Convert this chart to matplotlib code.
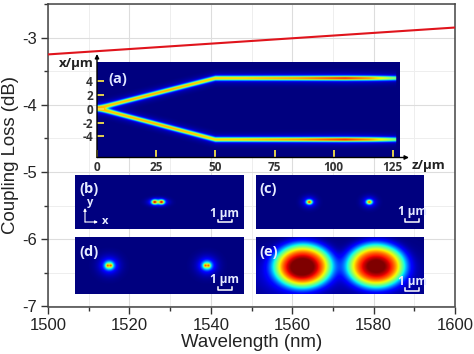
import numpy as np
import matplotlib
matplotlib.use("Agg")
import matplotlib.pyplot as plt
from matplotlib.patches import FancyArrowPatch
from matplotlib.ticker import MultipleLocator

plt.rcParams["font.family"] = ["Liberation Sans", "DejaVu Sans"]
plt.rcParams["axes.unicode_minus"] = False

FIG_W, FIG_H = 474, 354

wavelength = [1500, 1600]
coupling_loss = [-3.25, -2.85]

# panel (a) waveguide paths, um
guide_z = [0, 50, 125]
guide_upper = [0, 4.35, 4.35]
guide_lower = [0, -4.5, -4.5]
power_z = [0, 4, 30, 50, 60, 85, 105, 115, 122, 126]
power_level = [0.72, 0.70, 0.72, 0.68, 0.68, 0.74, 0.85, 0.75, 0.60, 0.50]
z_ticks = [0, 25, 50, 75, 100, 125]
x_ticks = [-4, -2, 0, 2, 4]

# mode spots: x, y, sigma x, sigma y, peak, exponent (um)
spots_b = [(-0.35, 0, 0.20, 0.15, 0.72, 1), (0.15, 0, 0.20, 0.15, 0.72, 1),
           (-0.10, 0, 0.62, 0.26, 0.28, 1)]
spots_c = [(-2.2, 0, 0.20, 0.15, 0.72, 1), (2.1, 0, 0.20, 0.15, 0.66, 1),
           (-2.2, 0, 0.50, 0.40, 0.16, 1), (2.1, 0, 0.50, 0.40, 0.16, 1)]
spots_d = [(-3.73, 0, 0.11, 0.12, 0.32, 1), (-3.47, 0, 0.11, 0.12, 0.32, 1),
           (3.27, 0, 0.11, 0.12, 0.32, 1), (3.53, 0, 0.11, 0.12, 0.32, 1),
           (-3.6, 0, 0.34, 0.30, 0.42, 1), (3.4, 0, 0.34, 0.30, 0.42, 1),
           (-3.6, 0, 0.75, 0.68, 0.16, 1), (3.4, 0, 0.75, 0.68, 0.16, 1)]
spots_e = [(-2.64, 0, 2.05, 1.55, 0.86, 1.9), (2.57, 0, 2.05, 1.55, 0.86, 1.9),
           (-2.64, 0, 0.70, 0.50, 0.14, 1), (2.57, 0, 0.70, 0.50, 0.14, 1),
           (-3.2, -0.6, 2.6, 1.6, 0.16, 1), (3.0, -0.6, 2.6, 1.6, 0.10, 1)]

# name, box, name position, spots, scale label position, bracket top
panels = [
    ("(b)", (75, 175, 244, 229), (89, 189), spots_b, (225, 214), 220),
    ("(c)", (256, 175, 424, 229), (268, 189), spots_c, (412, 211), 219),
    ("(d)", (75, 237, 244, 294), (89, 252), spots_d, (225, 279), 287),
    ("(e)", (256, 237, 424, 294), (269, 252), spots_e, (412, 281), 288),
]


def px_axes(fig, left, top, right, bottom):
    return fig.add_axes([left / FIG_W, 1 - bottom / FIG_H,
                         (right - left) / FIG_W, (bottom - top) / FIG_H])


def px_text(fig, x, y, s, **kw):
    fig.text(x / FIG_W, 1 - y / FIG_H, s, **kw)


def px_arrow(fig, start, end, color, lw, size):
    arrow = FancyArrowPatch((start[0] / FIG_W, 1 - start[1] / FIG_H),
                            (end[0] / FIG_W, 1 - end[1] / FIG_H),
                            transform=fig.transFigure, arrowstyle="-|>", color=color,
                            lw=lw, mutation_scale=size, shrinkA=0, shrinkB=0, zorder=8)
    fig.add_artist(arrow)


def guide_image():
    z = np.linspace(0, 128, 640)
    x = np.linspace(-7, 6.8, 280)
    zz, xx = np.meshgrid(z, x)
    power = np.interp(zz, power_z, power_level)
    field = np.zeros_like(zz)
    for path in (guide_upper, guide_lower):
        centre = np.interp(zz, guide_z, path)
        dist = xx - centre
        field += np.exp(-(dist / 0.30) ** 2) + 0.12 * np.exp(-(dist / 0.8) ** 2)
    field = np.clip(field, 0, 1) * power
    field[zz > 126.5] = 0
    return field, [0, 128, -7, 6.8]


def mode_image(spots, half_w, half_h):
    x = np.linspace(-half_w, half_w, 340)
    y = np.linspace(-half_h, half_h, 120)
    xx, yy = np.meshgrid(x, y)
    field = np.zeros_like(xx)
    for x0, y0, sx, sy, peak, power in spots:
        r2 = ((xx - x0) / sx) ** 2 + ((yy - y0) / sy) ** 2
        field += peak * np.exp(-r2 ** power)
    return np.clip(field, 0, 1)


fig = plt.figure(figsize=(FIG_W / 100, FIG_H / 100), dpi=100)

ax = px_axes(fig, 48, 4, 455, 306.5)
ax.plot(wavelength, coupling_loss, color="#e0141c", lw=1.5, zorder=3)
ax.set_xlim(1500, 1600)
ax.set_ylim(-7, -2.5)
ax.xaxis.set_major_locator(MultipleLocator(20))
ax.xaxis.set_minor_locator(MultipleLocator(10))
ax.yaxis.set_major_locator(MultipleLocator(1))
ax.yaxis.set_minor_locator(MultipleLocator(0.5))
ax.grid(True, which="major", color="#dddddd", lw=0.8)
ax.grid(True, which="minor", color="#eeeeee", lw=0.7)
ax.set_axisbelow(True)
ax.tick_params(which="major", length=5, width=1, labelsize=12, color="#333333",
               labelcolor="#222222", pad=3)
ax.tick_params(which="minor", length=3, width=1, color="#333333")
for spine in ax.spines.values():
    spine.set_linewidth(1.1)
    spine.set_color("#444444")
ax.set_xlabel("Wavelength (nm)", fontsize=13.4, color="#222222", labelpad=1)
ax.set_ylabel("Coupling Loss (dB)", fontsize=13.4, color="#222222", labelpad=2)

# panel (a)
ax_a = px_axes(fig, 97, 62, 400, 157)
field, extent = guide_image()
ax_a.imshow(field, cmap="jet", vmin=0, vmax=1, origin="lower", extent=extent,
            aspect="auto", interpolation="bilinear")
ax_a.set_xticks(z_ticks)
ax_a.set_yticks(x_ticks)
ax_a.set_yticklabels([str(t) for t in x_ticks])
ax_a.tick_params(direction="in", length=5, width=1.3, color="#f4e04a", labelsize=8.5,
                 labelcolor="#333333", pad=3)
for label in ax_a.get_xticklabels() + ax_a.get_yticklabels():
    label.set_fontweight("bold")
    label.set_family("Open Sans")
for spine in ax_a.spines.values():
    spine.set_visible(False)
ax_a.text(0.07, 0.82, "(a)", transform=ax_a.transAxes, color="#dfe6ff", fontsize=10.5,
          fontweight="bold", family="Open Sans", ha="center", va="center")

px_arrow(fig, (97, 157.5), (97, 54), "black", 1, 6)
px_arrow(fig, (97, 157.5), (409, 157.5), "black", 1, 6)
px_text(fig, 94, 64, "x/µm", fontsize=9.5, fontweight="bold", family="Open Sans",
        color="#222222", ha="right", va="center")
px_text(fig, 412, 166, "z/µm", fontsize=9.5, fontweight="bold", family="Open Sans",
        color="#222222", ha="left", va="center")

# mode panels
for name, box, name_pos, spots, bar_pos, bar_top in panels:
    left, top, right, bottom = box
    half_w = (right - left) / 14 / 2
    half_h = (bottom - top) / 14 / 2
    axp = px_axes(fig, left, top, right, bottom)
    axp.imshow(mode_image(spots, half_w, half_h), cmap="jet", vmin=0, vmax=1, origin="lower",
               extent=[-half_w, half_w, -half_h, half_h], aspect="auto",
               interpolation="bilinear")
    axp.axis("off")
    px_text(fig, name_pos[0], name_pos[1], name, fontsize=10.5, fontweight="bold",
            family="Open Sans", color="#e6ebff", ha="center", va="center", zorder=6)
    bx, by = bar_pos
    px_text(fig, bx, by, "1 µm", fontsize=8.5, fontweight="bold", family="Open Sans",
            color="#e6ebff", ha="center", va="center", zorder=6)
    xs = np.array([bx - 7, bx - 7, bx + 7, bx + 7]) / FIG_W
    ys = 1 - np.array([bar_top, bar_top + 2.5, bar_top + 2.5, bar_top]) / FIG_H
    fig.add_artist(plt.Line2D(xs, ys, color="white", lw=1.1, zorder=6))

# coordinate arrows in (b)
px_arrow(fig, (85, 222), (85, 208), "white", 0.8, 4)
px_arrow(fig, (85, 222), (98, 222), "white", 0.8, 4)
px_text(fig, 90, 202, "y", fontsize=8, fontweight="bold", family="Open Sans",
        color="#e6ebff", ha="center", va="center", zorder=6)
px_text(fig, 105, 222, "x", fontsize=8, fontweight="bold", family="Open Sans",
        color="#e6ebff", ha="center", va="center", zorder=6)

fig.savefig("out.png", dpi=100)
